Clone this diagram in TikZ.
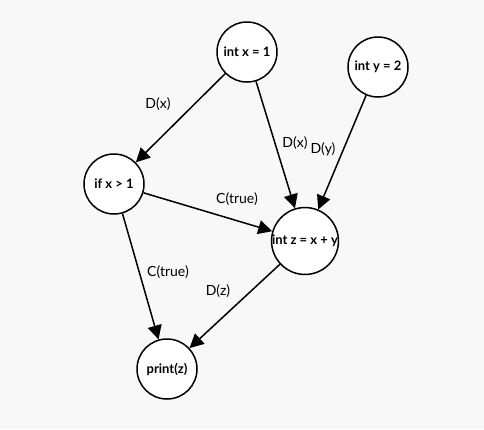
\documentclass[tikz,border=0pt]{standalone}
\usepackage{fontspec}
\setmainfont{Lato}
\usepackage{tikz}
\usetikzlibrary{arrows.meta, positioning}
\definecolor{bgGray}{RGB}{248,248,248}
\tikzstyle{stmt}=[circle, draw=black, fill=white, line width=1.5pt, minimum size=60pt,
  inner sep=0pt, font=\fontsize{13}{15}\selectfont\bfseries]
\tikzstyle{dep}=[-{Triangle[length=14pt,width=14pt]}, line width=1.5pt, draw=black]
\tikzstyle{depLabel}=[font=\fontsize{14}{16}\selectfont, inner sep=0pt]

\begin{document}
\begin{tikzpicture}[x=1pt, y=-1pt]
      \fill[bgGray] (0,0) rectangle (484,429);
      \useasboundingbox (0,0) rectangle (484,429);

      \node[stmt] (X) at (247,52) {int x = 1};
      \node[stmt] (Y) at (378,67) {int y = 2};
      \node[stmt] (If) at (114,184) {if x > 1};
      \node[stmt] (Z) at (305,241) {int z = x + y};
      \node[stmt] (P) at (167,369) {print(z)};

      \draw[dep] (X) -- (If);
      \draw[dep] (X) -- (Z);
      \draw[dep] (Y) -- (Z);
      \draw[dep] (If) -- (Z);
      \draw[dep] (If) -- (P);
      \draw[dep] (Z) -- (P);

      \node[depLabel] (lXIf) at (158,104) {D(x)};
      \node[depLabel] (lXZ) at (295,143) {D(x)};
      \node[depLabel] (lYZ) at (323,149) {D(y)};
      \node[depLabel] (lIfZ) at (237,199) {C(true)};
      \node[depLabel] (lIfP) at (168,272) {C(true)};
      \node[depLabel] (lZP) at (218,291) {D(z)};
    \end{tikzpicture}
\end{document}
